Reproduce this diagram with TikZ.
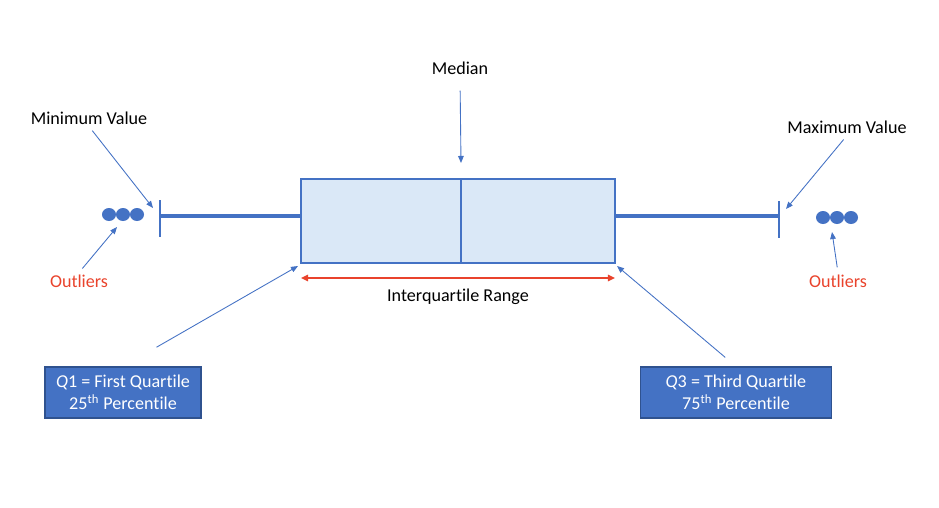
\documentclass[tikz,border=0pt]{standalone}
\usepackage{fontspec}
\setmainfont{Carlito}[Ligatures=NoCommon]
\usetikzlibrary{arrows.meta}
\definecolor{plotblue}{RGB}{68,114,196}
\definecolor{boxfill}{RGB}{218,232,247}
\definecolor{qborder}{RGB}{47,82,143}
\definecolor{outred}{RGB}{233,67,44}
\tikzset{
	lbl/.style={font=\fontsize{10.3}{12.5}\selectfont, inner sep=1pt},
	pointer/.style={draw=plotblue, line width=0.5pt, -{Triangle[length=4pt,width=3.2pt]}},
	qbox/.style={lbl, draw=qborder, line width=0.6pt, fill=plotblue, text=white, align=center, minimum height=1.02cm}
}

\begin{document}
\begin{tikzpicture}[x=0.02cm, y=-0.02cm]
		%%%%% START %%%%%
		\useasboundingbox (0, 0) rectangle (939, 507);
		
		% box and median
		\draw[fill=boxfill, draw=plotblue, line width=0.6pt] (301, 179) rectangle (615, 263);
		\draw[plotblue, line width=0.6pt] (461, 179) -- (461, 263);
		
		% whiskers
		\draw[plotblue, line width=2pt] (160, 216) -- (301, 216);
		\draw[plotblue, line width=2pt] (615, 216) -- (779, 216);
		\draw[plotblue, line width=0.8pt] (160, 200) -- (160, 237);
		\draw[plotblue, line width=0.8pt] (779, 201) -- (779, 238);
		
		% outliers
		\fill[plotblue] (109, 214.5) ellipse (7 and 6.5);
		\fill[plotblue] (123, 214.5) ellipse (7 and 6.5);
		\fill[plotblue] (137, 214.5) ellipse (7 and 6.5);
		\fill[plotblue] (823, 217.5) ellipse (7 and 6.5);
		\fill[plotblue] (837, 217.5) ellipse (7 and 6.5);
		\fill[plotblue] (851, 217.5) ellipse (7 and 6.5);
		
		% labels
		\node[lbl] (medlbl) at (460, 68) {Median};
		\node[lbl] (minlbl) at (89, 118) {Minimum Value};
		\node[lbl] (maxlbl) at (847, 127) {Maximum Value};
		\node[lbl, text=outred] (outleft) at (79, 281) {Outliers};
		\node[lbl, text=outred] (outright) at (838, 281) {Outliers};
		\node[lbl] (iqrlbl) at (458, 297) {Interquartile Range};
		\node[qbox, minimum width=3.12cm] (qone) at (123, 392.5) {\textit{Q}1 = First Quartile\\25\textsuperscript{th} Percentile};
		\node[qbox, minimum width=3.82cm] (qthree) at (736, 392.5) {\textit{Q}3 = Third Quartile\\75\textsuperscript{th} Percentile};
		
		% arrow ends
		\coordinate (medend) at (461, 163);
		\coordinate (minend) at (153, 208);
		\coordinate (maxend) at (786, 209);
		\coordinate (outleftend) at (117, 227);
		\coordinate (outrightend) at (832, 232);
		\coordinate (qoneend) at (298, 266);
		\coordinate (qthreeend) at (617, 266);
		\coordinate (iqrleft) at (301, 278);
		\coordinate (iqrright) at (615, 278);
		
		\draw[pointer, shorten <=8pt] (medlbl.south) -- (medend);
		\draw[pointer, shorten <=3pt] (minlbl.south) -- (minend);
		\draw[pointer, shorten <=3pt] (maxlbl.south) -- (maxend);
		\draw[pointer, shorten <=3pt] (outleft.north) -- (outleftend);
		\draw[pointer, shorten <=3pt] (outright.north) -- (outrightend);
		\draw[pointer, shorten <=22pt] (qone.north) -- (qoneend);
		\draw[pointer, shorten <=8pt] (qthree.north) -- (qthreeend);
		\draw[outred, line width=1.2pt, {Triangle[length=4pt,width=3.6pt]}-{Triangle[length=4pt,width=3.6pt]}] (iqrleft) -- (iqrright);
		
		%%%%% END %%%%%
	\end{tikzpicture}
\end{document}
